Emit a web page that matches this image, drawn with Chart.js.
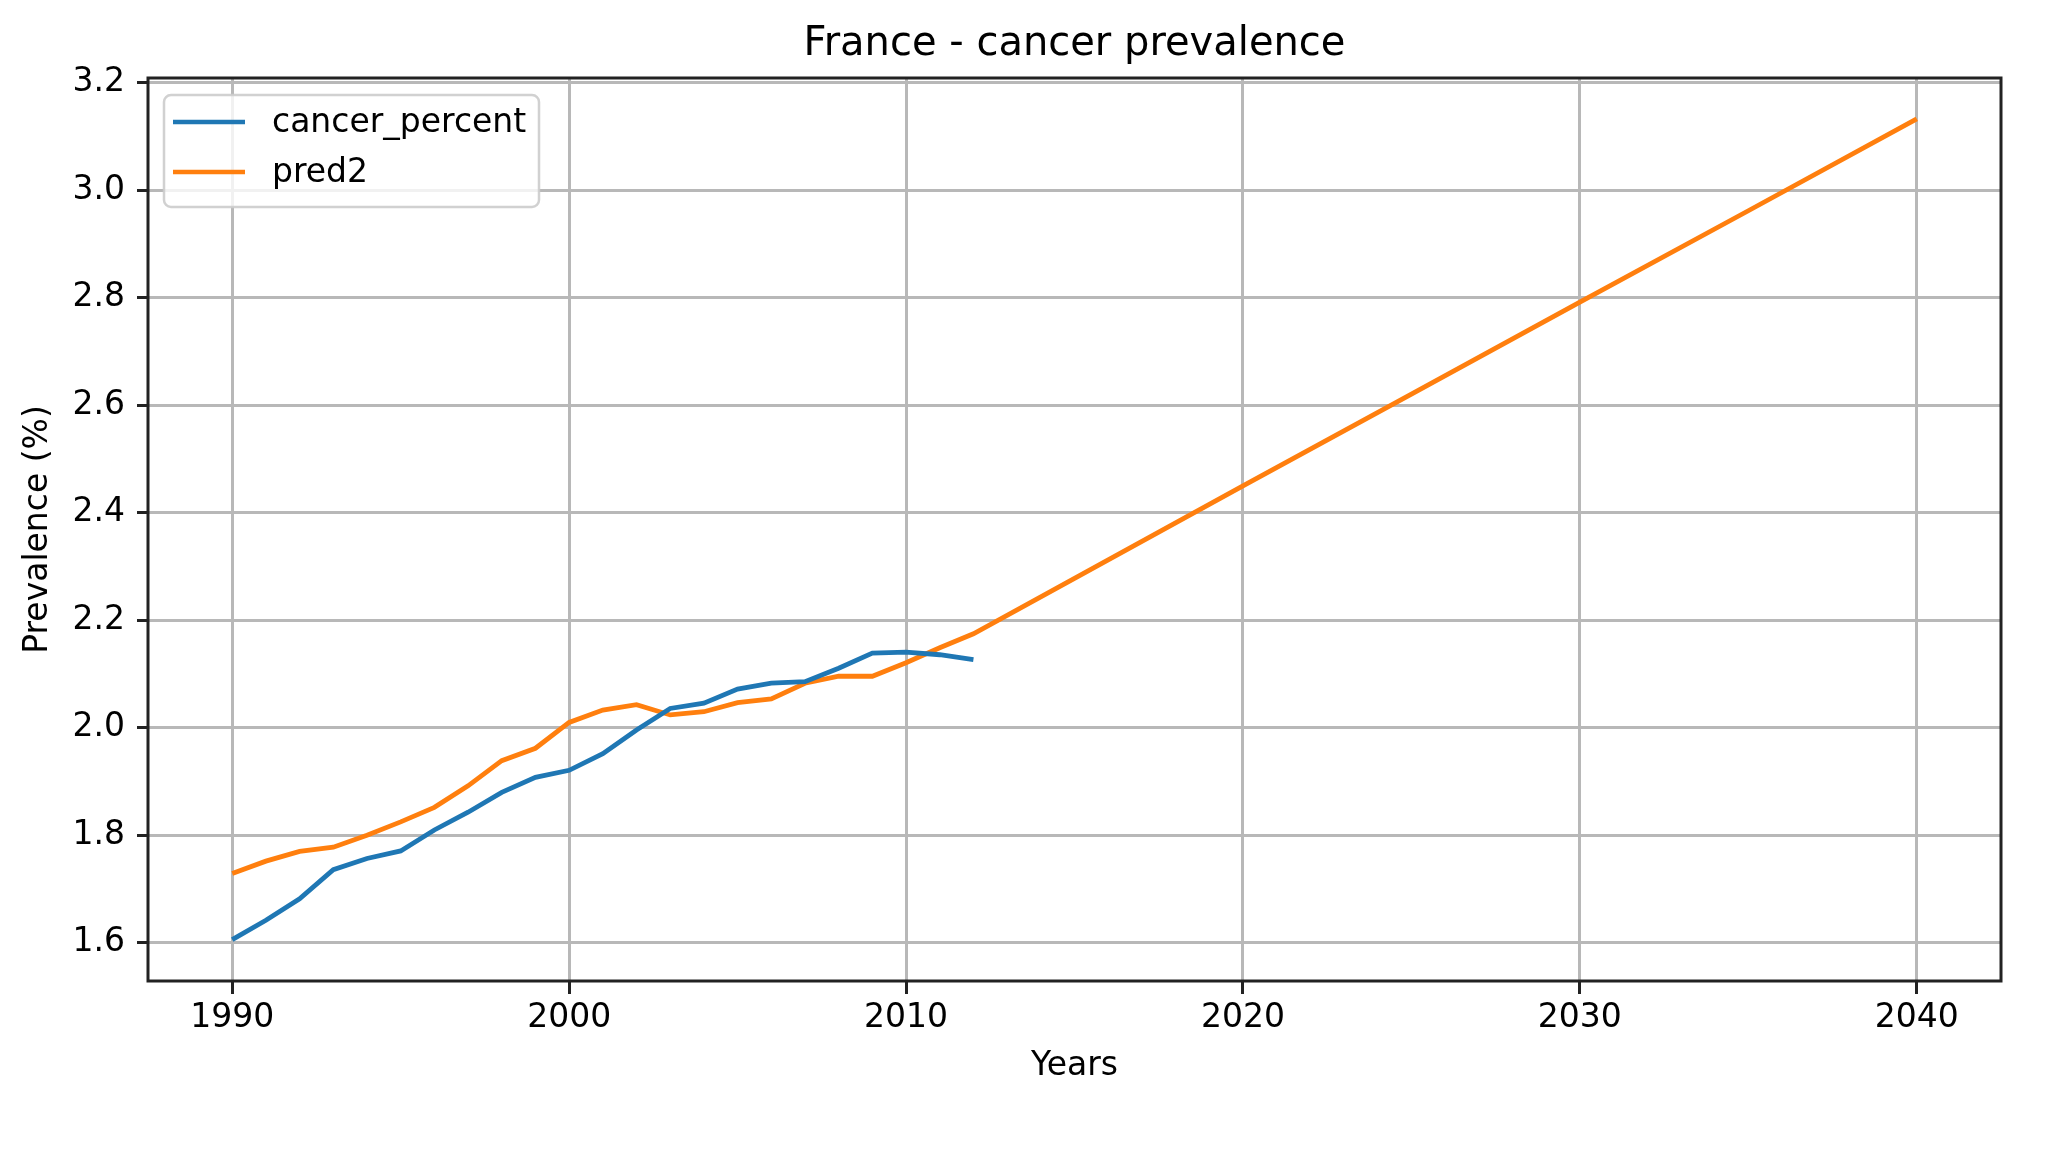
<!DOCTYPE html>
<html>
<head>
<meta charset="utf-8">
<title>France - cancer prevalence</title>
<script src="https://cdn.jsdelivr.net/npm/chart.js@4.4.0/dist/chart.umd.min.js"></script>
<style>
  html, body { margin: 0; padding: 0; background: #fff; }
  #wrap { width: 2048px; height: 1152px; }
</style>
</head>
<body>
<div id="wrap"><canvas id="prevalenceCanvas" width="2048" height="1152"></canvas></div>
<script>
// observed values, 1990 - 2012
const years = [1990, 1991, 1992, 1993, 1994, 1995, 1996, 1997, 1998, 1999, 2000,
               2001, 2002, 2003, 2004, 2005, 2006, 2007, 2008, 2009, 2010, 2011, 2012];
const cancerPercent = [1.606, 1.642, 1.682, 1.736, 1.757, 1.771, 1.810, 1.843, 1.880, 1.908, 1.921,
                       1.952, 1.996, 2.036, 2.046, 2.072, 2.083, 2.086, 2.111, 2.139, 2.141, 2.136, 2.127];

// model prediction, fitted years then the projection up to 2040
const predYears = [1990, 1991, 1992, 1993, 1994, 1995, 1996, 1997, 1998, 1999, 2000,
                   2001, 2002, 2003, 2004, 2005, 2006, 2007, 2008, 2009, 2010, 2011, 2012,
                   2015, 2020, 2025, 2030, 2035, 2040];
const pred2 = [1.729, 1.752, 1.770, 1.778, 1.800, 1.825, 1.852, 1.892, 1.939, 1.962, 2.010,
               2.033, 2.043, 2.024, 2.030, 2.047, 2.054, 2.083, 2.096, 2.096, 2.121, 2.149, 2.175,
               2.278, 2.450, 2.621, 2.792, 2.962, 3.133];

const xTicks = [1990, 2000, 2010, 2020, 2030, 2040];
const yTicks = [1.6, 1.8, 2.0, 2.2, 2.4, 2.6, 2.8, 3.0, 3.2];

const FONT = 'DejaVu Sans';
Chart.defaults.font.family = FONT;
Chart.defaults.color = '#000';

function toPoints(xs, ys) {
    return xs.map((x, i) => ({ x: x, y: ys[i] }));
}

// black box round the plot, like matplotlib spines
const framePlugin = {
    id: 'frame',
    afterDatasetsDraw(chart) {
        const a = chart.chartArea;
        const ctx = chart.ctx;
        ctx.save();
        ctx.strokeStyle = '#222';
        ctx.lineWidth = 3;
        ctx.strokeRect(a.left, a.top, a.right - a.left, a.bottom - a.top);
        ctx.restore();
    }
};

// legend box in the upper left corner
const boxLegend = {
    id: 'boxLegend',
    afterDraw(chart, args, opts) {
        const ctx = chart.ctx;
        ctx.save();
        ctx.beginPath();
        ctx.roundRect(opts.x, opts.y, opts.w, opts.h, 7);
        ctx.fillStyle = 'rgba(255,255,255,0.8)';
        ctx.fill();
        ctx.strokeStyle = 'rgba(204,204,204,0.9)';
        ctx.lineWidth = 2.5;
        ctx.stroke();
        ctx.font = opts.fontSize + 'px ' + FONT;
        ctx.textBaseline = 'middle';
        chart.data.datasets.forEach((ds, i) => {
            const y = opts.firstRow + i * opts.rowGap;
            ctx.strokeStyle = ds.borderColor;
            ctx.lineWidth = 4.5;
            ctx.beginPath();
            ctx.moveTo(opts.lineX, y);
            ctx.lineTo(opts.lineX + opts.lineLen, y);
            ctx.stroke();
            ctx.fillStyle = '#000';
            ctx.fillText(ds.label, opts.textX, y + 1);
        });
        ctx.restore();
    }
};

const ctx = document.getElementById('prevalenceCanvas').getContext('2d');
new Chart(ctx, {
    type: 'line',
    data: {
        datasets: [
            {
                label: 'cancer_percent',
                data: toPoints(years, cancerPercent),
                borderColor: '#1f77b4',
                borderWidth: 4.8,
                pointRadius: 0,
                tension: 0,
                fill: false
            },
            {
                label: 'pred2',
                data: toPoints(predYears, pred2),
                borderColor: '#ff7f0e',
                borderWidth: 4.8,
                pointRadius: 0,
                tension: 0,
                fill: false
            }
        ]
    },
    options: {
        responsive: false,
        devicePixelRatio: 1,
        animation: false,
        layout: { padding: { left: 0, right: 47, top: 0, bottom: 0 } },
        plugins: {
            legend: { display: false },
            tooltip: { enabled: false },
            title: {
                display: true,
                fullSize: false,
                text: 'France - cancer prevalence',
                color: '#000',
                font: { size: 40, weight: 'normal' },
                padding: { top: 21, bottom: 9 }
            },
            boxLegend: {
                x: 164, y: 95, w: 375, h: 112,
                lineX: 173, lineLen: 72, textX: 272,
                firstRow: 122, rowGap: 50, fontSize: 33
            }
        },
        scales: {
            x: {
                type: 'linear',
                min: 1987.5,
                max: 2042.5,
                afterBuildTicks: (scale) => { scale.ticks = xTicks.map(v => ({ value: v })); },
                afterFit: (scale) => { scale.height = 171; },
                border: { display: false },
                grid: { color: '#b8b8b8', lineWidth: 3, tickLength: 13, tickColor: '#222', tickWidth: 3 },
                ticks: {
                    autoSkip: false,
                    maxRotation: 0,
                    padding: 5,
                    font: { size: 33 },
                    callback: (v) => String(v)
                },
                title: {
                    display: true,
                    text: 'Years',
                    font: { size: 33 },
                    padding: { top: 0, bottom: 66 }
                }
            },
            y: {
                type: 'linear',
                min: 1.529,
                max: 3.209,
                afterBuildTicks: (scale) => { scale.ticks = yTicks.map(v => ({ value: v })); },
                afterFit: (scale) => { scale.width = 148; },
                border: { display: false },
                grid: { color: '#b8b8b8', lineWidth: 3, tickLength: 11, tickColor: '#222', tickWidth: 3 },
                ticks: {
                    autoSkip: false,
                    padding: 12,
                    font: { size: 33 },
                    callback: (v) => v.toFixed(1)
                },
                title: {
                    display: true,
                    text: 'Prevalence (%)',
                    font: { size: 33 },
                    padding: { top: 19, bottom: 0 }
                }
            }
        }
    },
    plugins: [framePlugin, boxLegend]
});
</script>
</body>
</html>
